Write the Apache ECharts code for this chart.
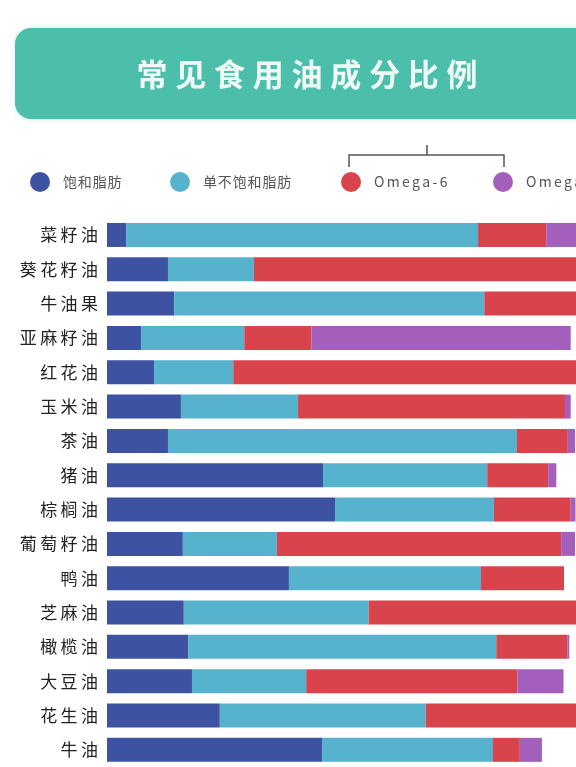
<!DOCTYPE html>
<html>
<head>
<meta charset="utf-8">
<script src="https://cdn.jsdelivr.net/npm/echarts@6/dist/echarts.min.js"></script>
<style>
html,body{margin:0;padding:0;background:#fff;}
#chart{width:576px;height:767px;}
</style>
</head>
<body>
<div id="chart"></div>
<script>
const titleText = '常见食用油成分比例';
const categories = ['菜籽油','葵花籽油','牛油果','亚麻籽油','红花油','玉米油','茶油','猪油','棕榈油','葡萄籽油','鸭油','芝麻油','橄榄油','大豆油','花生油','牛油'];
const seriesNames = ['饱和脂肪','单不饱和脂肪','Omega-6','Omega-3'];
const saturated   = [4.0, 12.7, 14.0, 7.1, 9.8, 15.4, 12.7, 45.0, 47.5, 15.8, 37.9, 16.0, 16.9, 17.7, 23.5, 44.8];
const monounsat   = [73.3, 17.9, 64.6, 21.5, 16.5, 24.4, 72.7, 34.2, 33.1, 19.6, 40.0, 38.5, 64.2, 23.8, 42.9, 35.6];
const omega6      = [14.2, 68.0, 20.0, 14.0, 73.0, 55.6, 10.6, 12.7, 16.0, 59.2, 17.3, 44.0, 14.8, 44.0, 33.0, 5.6];
const omega3      = [9.0, 0, 0, 54.0, 0, 1.2, 1.5, 1.7, 1.0, 2.9, 0, 0, 0.4, 9.6, 0, 4.6];

const colors = ['#3d52a0','#57b3cd','#d8434c','#a35fbb'];
const values = [saturated, monounsat, omega6, omega3];

function spaced(s, sp){ return s.split('').join(sp); }

const chart = echarts.init(document.getElementById('chart'), null, {renderer:'canvas'});

const legendLefts = [30, 170, 341, 493];
const legends = seriesNames.map((n,i)=>({
  data:[n],
  left: legendLefts[i],
  top: 172,
  padding:0,
  orient:'horizontal',
  icon:'circle',
  itemWidth:20,
  itemHeight:20,
  selectedMode:false,
  textStyle:{color:'#555', fontSize:14, fontFamily:'Noto Sans CJK SC', padding:[0,0,0,8]},
  formatter: (name)=> /^[\u4e00-\u9fff]/.test(name) ? spaced(name,'\u200a') : spaced(name,'\u2006')
}));

const option = {
  backgroundColor:'#ffffff',
  animation:false,
  color: colors,
  legend: legends,
  grid:{left:107, top:217.8, right:0, height:551.5, containLabel:false},
  xAxis:{type:'value', min:0, max:97.7, show:false},
  yAxis:{
    type:'category',
    data:categories,
    inverse:true,
    axisLine:{show:false},
    axisTick:{show:false},
    splitLine:{show:false},
    axisLabel:{
      color:'#222', fontSize:17, margin:9, fontFamily:'Noto Sans CJK SC',
      formatter:(v)=>spaced(v,'\u2009')
    }
  },
  series: seriesNames.map((n,i)=>({
    name:n,
    type:'bar',
    stack:'total',
    barWidth:24,
    data: values[i],
    itemStyle:{color:colors[i]}
  })),
  graphic:[
    {type:'rect', shape:{x:15, y:28, width:620, height:91, r:16}, style:{fill:'#4cbfab', shadowBlur:6, shadowColor:'rgba(76,191,171,0.25)'}, z:0},
    {type:'text', x:307, y:74, style:{text:spaced(titleText,'\u2005'), fill:'#effaf7', font:'bold 31px "Noto Sans CJK SC"', align:'center', verticalAlign:'middle'}, z:1},
    {type:'polyline', shape:{points:[[349,167],[349,155],[504,155],[504,167]]}, style:{stroke:'#555', lineWidth:1.5, fill:null}},
    {type:'line', shape:{x1:427, y1:155, x2:427, y2:145}, style:{stroke:'#555', lineWidth:1.5}}
  ]
};
chart.setOption(option);
</script>
</body>
</html>
